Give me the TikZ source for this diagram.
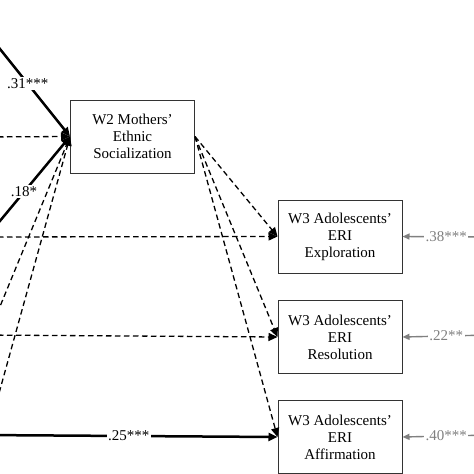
\documentclass[tikz,border=0pt]{standalone}
\usepackage{fontspec}
\setmainfont{Liberation Serif}
\usetikzlibrary{arrows.meta}

\begin{document}
\begin{tikzpicture}[x=1pt,y=-1pt,font=\fontsize{15}{17}\selectfont,
  box/.style={draw=black!80,line width=1pt,minimum width=124pt,minimum height=73pt,align=center,inner sep=0pt},
  sig/.style={line width=2.5pt,-{Triangle[length=9pt,width=8pt]}},
  ns/.style={line width=1.3pt,dash pattern=on 5.5pt off 3.5pt,-{Triangle[length=9pt,width=8pt]}},
  res/.style={draw=black!50,line width=1.4pt,-{Triangle[length=7pt,width=6pt]}},
  lab/.style={fill=white,inner sep=1.5pt}]
\useasboundingbox (0,0) rectangle (474,474);
\clip (0,0) rectangle (474,474);
\node[box] (soc) at (132.5,136.5) {W2 Mothers’\\Ethnic\\Socialization};
\node[box] (exp) at (340,236.5) {W3 Adolescents’\\ERI\\Exploration};
\node[box] (resl) at (340,337) {W3 Adolescents’\\ERI\\Resolution};
\node[box] (aff) at (340,437) {W3 Adolescents’\\ERI\\Affirmation};
% free ends off the left and right edges
\foreach \n/\y in {l1/24,l2/137,l3/245,l4/355,l5/462,l6/237,l7/335,l8/435}{\coordinate (\n) at (-20,\y);}
\foreach \n/\y in {r1/237,r2/335,r3/435}{\coordinate (\n) at (490,\y);}
\draw[sig] (l1) -- node[lab,pos=0.53]{.31***} (soc.west);
\draw[ns] (l2) -- (soc.west);
\draw[sig] (l3) -- node[lab,pos=0.49]{.18*} (soc.west);
\draw[ns] (l4) -- (soc.west);
\draw[ns] (l5) -- (soc.west);
\draw[ns] (l6) -- (exp.west);
\draw[ns] (l7) -- (resl.west);
\draw[sig] (l8) -- node[lab,pos=0.5]{.25***} (aff.west);
\foreach \t in {exp,resl,aff}{\draw[ns] (soc.east) -- (\t.west);}
\foreach \r/\t/\v in {r1/exp/.38***,r2/resl/.22**,r3/aff/.40***}{\draw[res] (\r) -- node[lab,text=black!50,pos=0.5]{\v} (\t.east);}
\end{tikzpicture}
\end{document}
